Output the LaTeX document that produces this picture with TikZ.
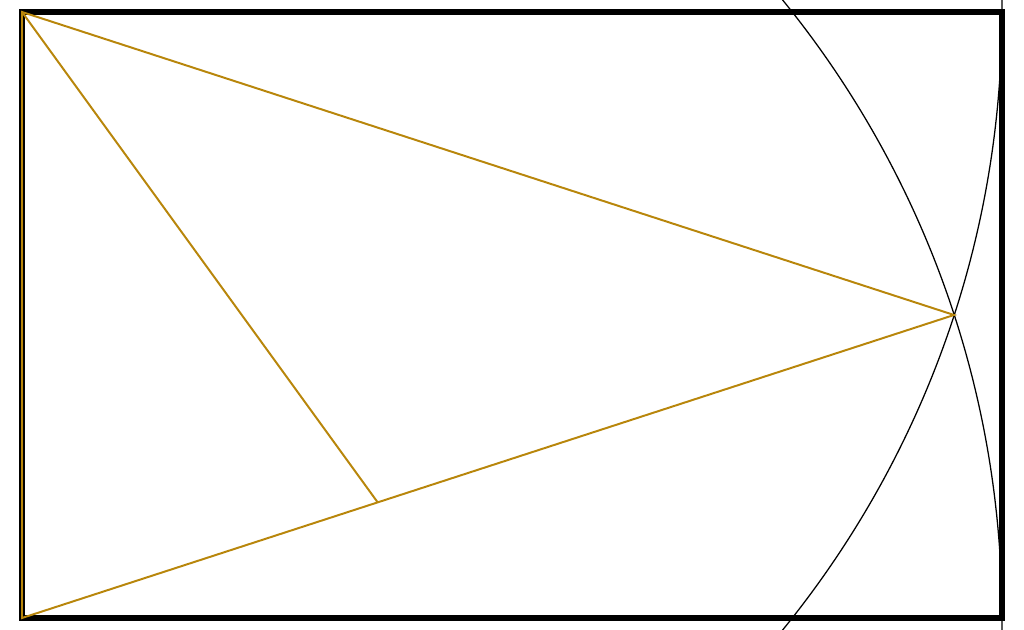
\documentclass[tikz,border=0pt]{standalone}
\usetikzlibrary{calc}
\definecolor{gold}{RGB}{184,134,11}

\begin{document}
\begin{tikzpicture}[
        x=0.025cm, y=0.025cm,
        frame/.style={draw=black, line width=3.6pt},
        gline/.style={draw=gold, line width=1.4pt},
        arcline/.style={draw=black, line width=0.9pt}
    ]
	\useasboundingbox (0,0) rectangle (1024,630);
	\clip (0,0) rectangle (1024,630);
	\coordinate (tl) at (22,618);
	\coordinate (bl) at (22,12);
	\coordinate (br) at (1002,12);
	\coordinate (tr) at (1002,618);
	\coordinate (apex) at (954,315);
	\coordinate (foot) at ($(apex)!606/980!(bl)$);
	\draw[frame] (bl) rectangle (tr);
	\foreach \c in {tl,bl}
		{
		   \draw[arcline] (\c) circle (980);
		};
	\draw[gline] (tl) -- (apex) -- (bl) -- cycle;
	\draw[gline] (tl) -- (foot);
\end{tikzpicture}
\end{document}
